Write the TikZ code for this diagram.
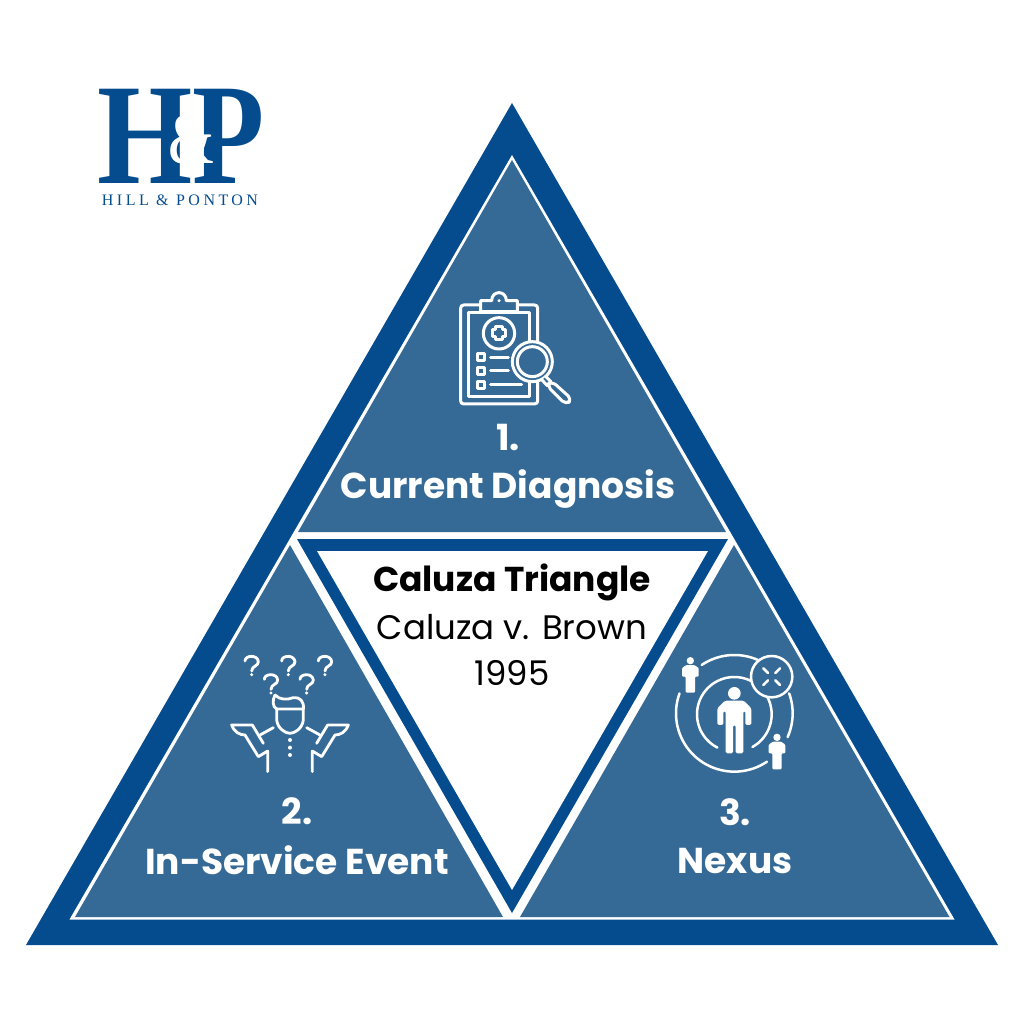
\documentclass[tikz,border=0pt]{standalone}
\usepackage{fontspec}
\setmainfont{Poppins}
\newfontfamily\logofont{Liberation Serif}
\definecolor{darkb}{HTML}{054C8F}
\definecolor{lightb}{HTML}{366A96}
\tikzset{
 iconline/.style={draw=white,line width=2.8pt,line cap=round,line join=round},
 labelbold/.style={text=white,font=\bfseries\fontsize{36}{36}\selectfont,inner sep=0pt,anchor=center},
 centerbold/.style={text=black,font=\bfseries\fontsize{34.5}{34.5}\selectfont,inner sep=0pt,anchor=center},
 centerreg/.style={text=black,font=\fontsize{34}{34}\selectfont,inner sep=0pt,anchor=center},
 ampersand/.style={inner sep=0pt,text=white,font=\logofont\fontsize{72}{72}\selectfont,xscale=.8},
}
\newcommand{\myarc}[5]{plot[domain=#4:#5,samples=40,smooth] ({#1+#3*cos(\x)},{#2+#3*sin(\x)})}
\newcommand{\qmark}[2]{%
 \draw[iconline,shift={(#1,#2)}] (-20,-12) .. controls (-20,-30) and (18,-32) .. (20,-10) .. controls (21,4) and (0,2) .. (0,18);
 \fill[white,shift={(#1,#2)}] (0,29) circle (5);}
\newcommand{\tinyperson}[2]{%
 \fill[white,shift={(#1,#2)}] (0,-18) circle (11);
 \fill[white,shift={(#1,#2)},rounded corners=1pt] (-25,30) -- (-25,4) -- (-12,-5) -- (12,-5) -- (25,4) -- (25,30) -- (14,30) -- (14,78) -- (-14,78) -- (-14,30) -- cycle;}
\begin{document}
\begin{tikzpicture}[x=1pt,y=-1pt]
\useasboundingbox (0,0) rectangle (1024,1024);
\fill[white] (0,0) rectangle (1024,1024);
% triangles
\fill[darkb] (512,103) -- (998,945) -- (26,945) -- cycle;
\fill[white] (512,155) -- (954.5,919.5) -- (69.5,919.5) -- cycle;
\fill[lightb] (512,160) -- (726,532) -- (298,532) -- cycle;
\fill[lightb] (290,545) -- (503,917) -- (75,917) -- cycle;
\fill[lightb] (734,545) -- (949.5,917) -- (520,917) -- cycle;
\fill[darkb] (297,539) -- (728,539) -- (512,913) -- cycle;
\fill[white] (317,551) -- (708,551) -- (512,890) -- cycle;
% texts
\node[labelbold] (t1a) at (508,437) {1.};
\node[labelbold] (t1b) at (508,489) {Current Diagnosis};
\node[labelbold] (t2a) at (297,811) {2.};
\node[labelbold] (t2b) at (297,860) {In-Service Event};
\node[labelbold] (t3a) at (735,812) {3.};
\node[labelbold] (t3b) at (735,861) {Nexus};
\node[centerbold] (c1) at (512,582) {Caluza Triangle};
\node[centerreg] (c2) at (512,627) {Caluza v. Brown};
\node[centerreg] (c3) at (512,673) {1995};
% logo
\node[inner sep=0pt,text=darkb,font=\logofont\bfseries\fontsize{144}{144}\selectfont,xscale=.85] (lh) at (145,136) {H};
\node[inner sep=0pt,text=darkb,font=\logofont\bfseries\fontsize{144}{144}\selectfont,xscale=.82] (lp) at (229,136) {P};
\fill[white] (191.5,86) rectangle (194,186);
\node[ampersand] (la) at (191,140) {\&};
\node[ampersand] (lb) at (192,140) {\&};
\node[inner sep=0pt,text=darkb,font=\logofont\fontsize{16}{16}\selectfont] (ln) at (180,200) {\addfontfeatures{LetterSpace=21.6}HILL \& PONTON};
% icon 1
\begin{scope}[shift={(440,280)},x=.3333pt,y=-.3333pt,iconline/.append style={line width=3pt}]
\draw[iconline,rounded corners=3pt] (62,75) rectangle (293,372);
\draw[iconline] (85,97) rectangle (270,350);
\draw[iconline,fill=lightb] (122,95) -- (122,62) -- (155,62) .. controls (155,30) and (199,30) .. (199,62) -- (232,62) -- (232,95) -- cycle;
\fill[white] (177,62) circle (5);
\draw[iconline] (177,160) circle (47);
\draw[iconline] (167,140) -- (187,140) -- (187,150) -- (197,150) -- (197,170) -- (187,170) -- (187,180) -- (167,180) -- (167,170) -- (157,170) -- (157,150) -- (167,150) -- cycle;
\draw[iconline] (111,221) rectangle (133,243);
\draw[iconline] (111,262) rectangle (133,284);
\draw[iconline] (111,304) rectangle (133,326);
\draw[iconline] (152,232) -- (205,232);
\draw[iconline] (152,272) -- (205,272);
\draw[iconline] (152,315) -- (245,315);
\draw[iconline,fill=lightb] (277,245) circle (60);
\draw[iconline] (277,245) circle (45);
\draw[iconline,fill=lightb] (318,290) -- (333,305) -- (322,317) -- (306,300);
\draw[iconline,fill=lightb,rounded corners=5pt] (335,303) -- (396,358) -- (378,374) -- (320,316) -- cycle;
\end{scope}
% icon 2
\begin{scope}[shift={(215,645)},x=.3333pt,y=-.3333pt]
\qmark{110}{60}\qmark{220}{60}\qmark{330}{60}\qmark{168}{115}\qmark{275}{115}
\draw[iconline] (185,190) -- (185,225) .. controls (188,250) and (210,265) .. (225,265) .. controls (240,265) and (262,250) .. (265,225) -- (265,190);
\draw[iconline] (180,150) .. controls (195,165) and (215,165) .. (235,158) .. controls (255,155) and (268,170) .. (265,192) -- (185,192) .. controls (172,185) and (172,165) .. (180,150);
\draw[iconline] (175,248) -- (135,270);
\draw[iconline] (275,248) -- (315,270);
\draw[iconline] (145,295) -- (112,240) -- (50,240) .. controls (58,262) and (75,270) .. (90,270) -- (130,335) -- (158,318) -- (158,380);
\draw[iconline] (305,295) -- (338,240) -- (400,240) .. controls (392,262) and (375,270) .. (360,270) -- (320,335) -- (292,318) -- (292,380);
\fill[white] (225,285) circle (6);
\fill[white] (225,308) circle (6);
\fill[white] (225,330) circle (6);
\end{scope}
% icon 3
\begin{scope}[shift={(665,645)},x=.3333pt,y=-.3333pt,iconline/.append style={line width=2.5pt}]
\draw[iconline] \myarc{208}{208}{112}{117}{421};
\draw[iconline] \myarc{208}{205}{175}{56}{200};
\draw[iconline] \myarc{208}{205}{175}{236}{300};
\draw[iconline] \myarc{208}{205}{175}{-20}{24};
\draw[iconline,fill=lightb] (320,95) circle (62);
\draw[iconline] (295,70) -- (309,84);
\draw[iconline] (345,70) -- (331,84);
\draw[iconline] (295,120) -- (309,106);
\draw[iconline] (345,120) -- (331,106);
\fill[white] (208,145) circle (19);
\fill[white,rounded corners=1.5pt] (157,240) -- (157,190) -- (180,167) -- (236,167) -- (259,190) -- (259,240) -- (241,240) -- (241,198) -- (235,198) -- (235,325) -- (212,325) -- (212,240) -- (204,240) -- (204,325) -- (182,325) -- (182,198) -- (175,198) -- (175,240) -- cycle;
\tinyperson{76}{65}
\tinyperson{336}{295}
\end{scope}
\end{tikzpicture}
\end{document}
